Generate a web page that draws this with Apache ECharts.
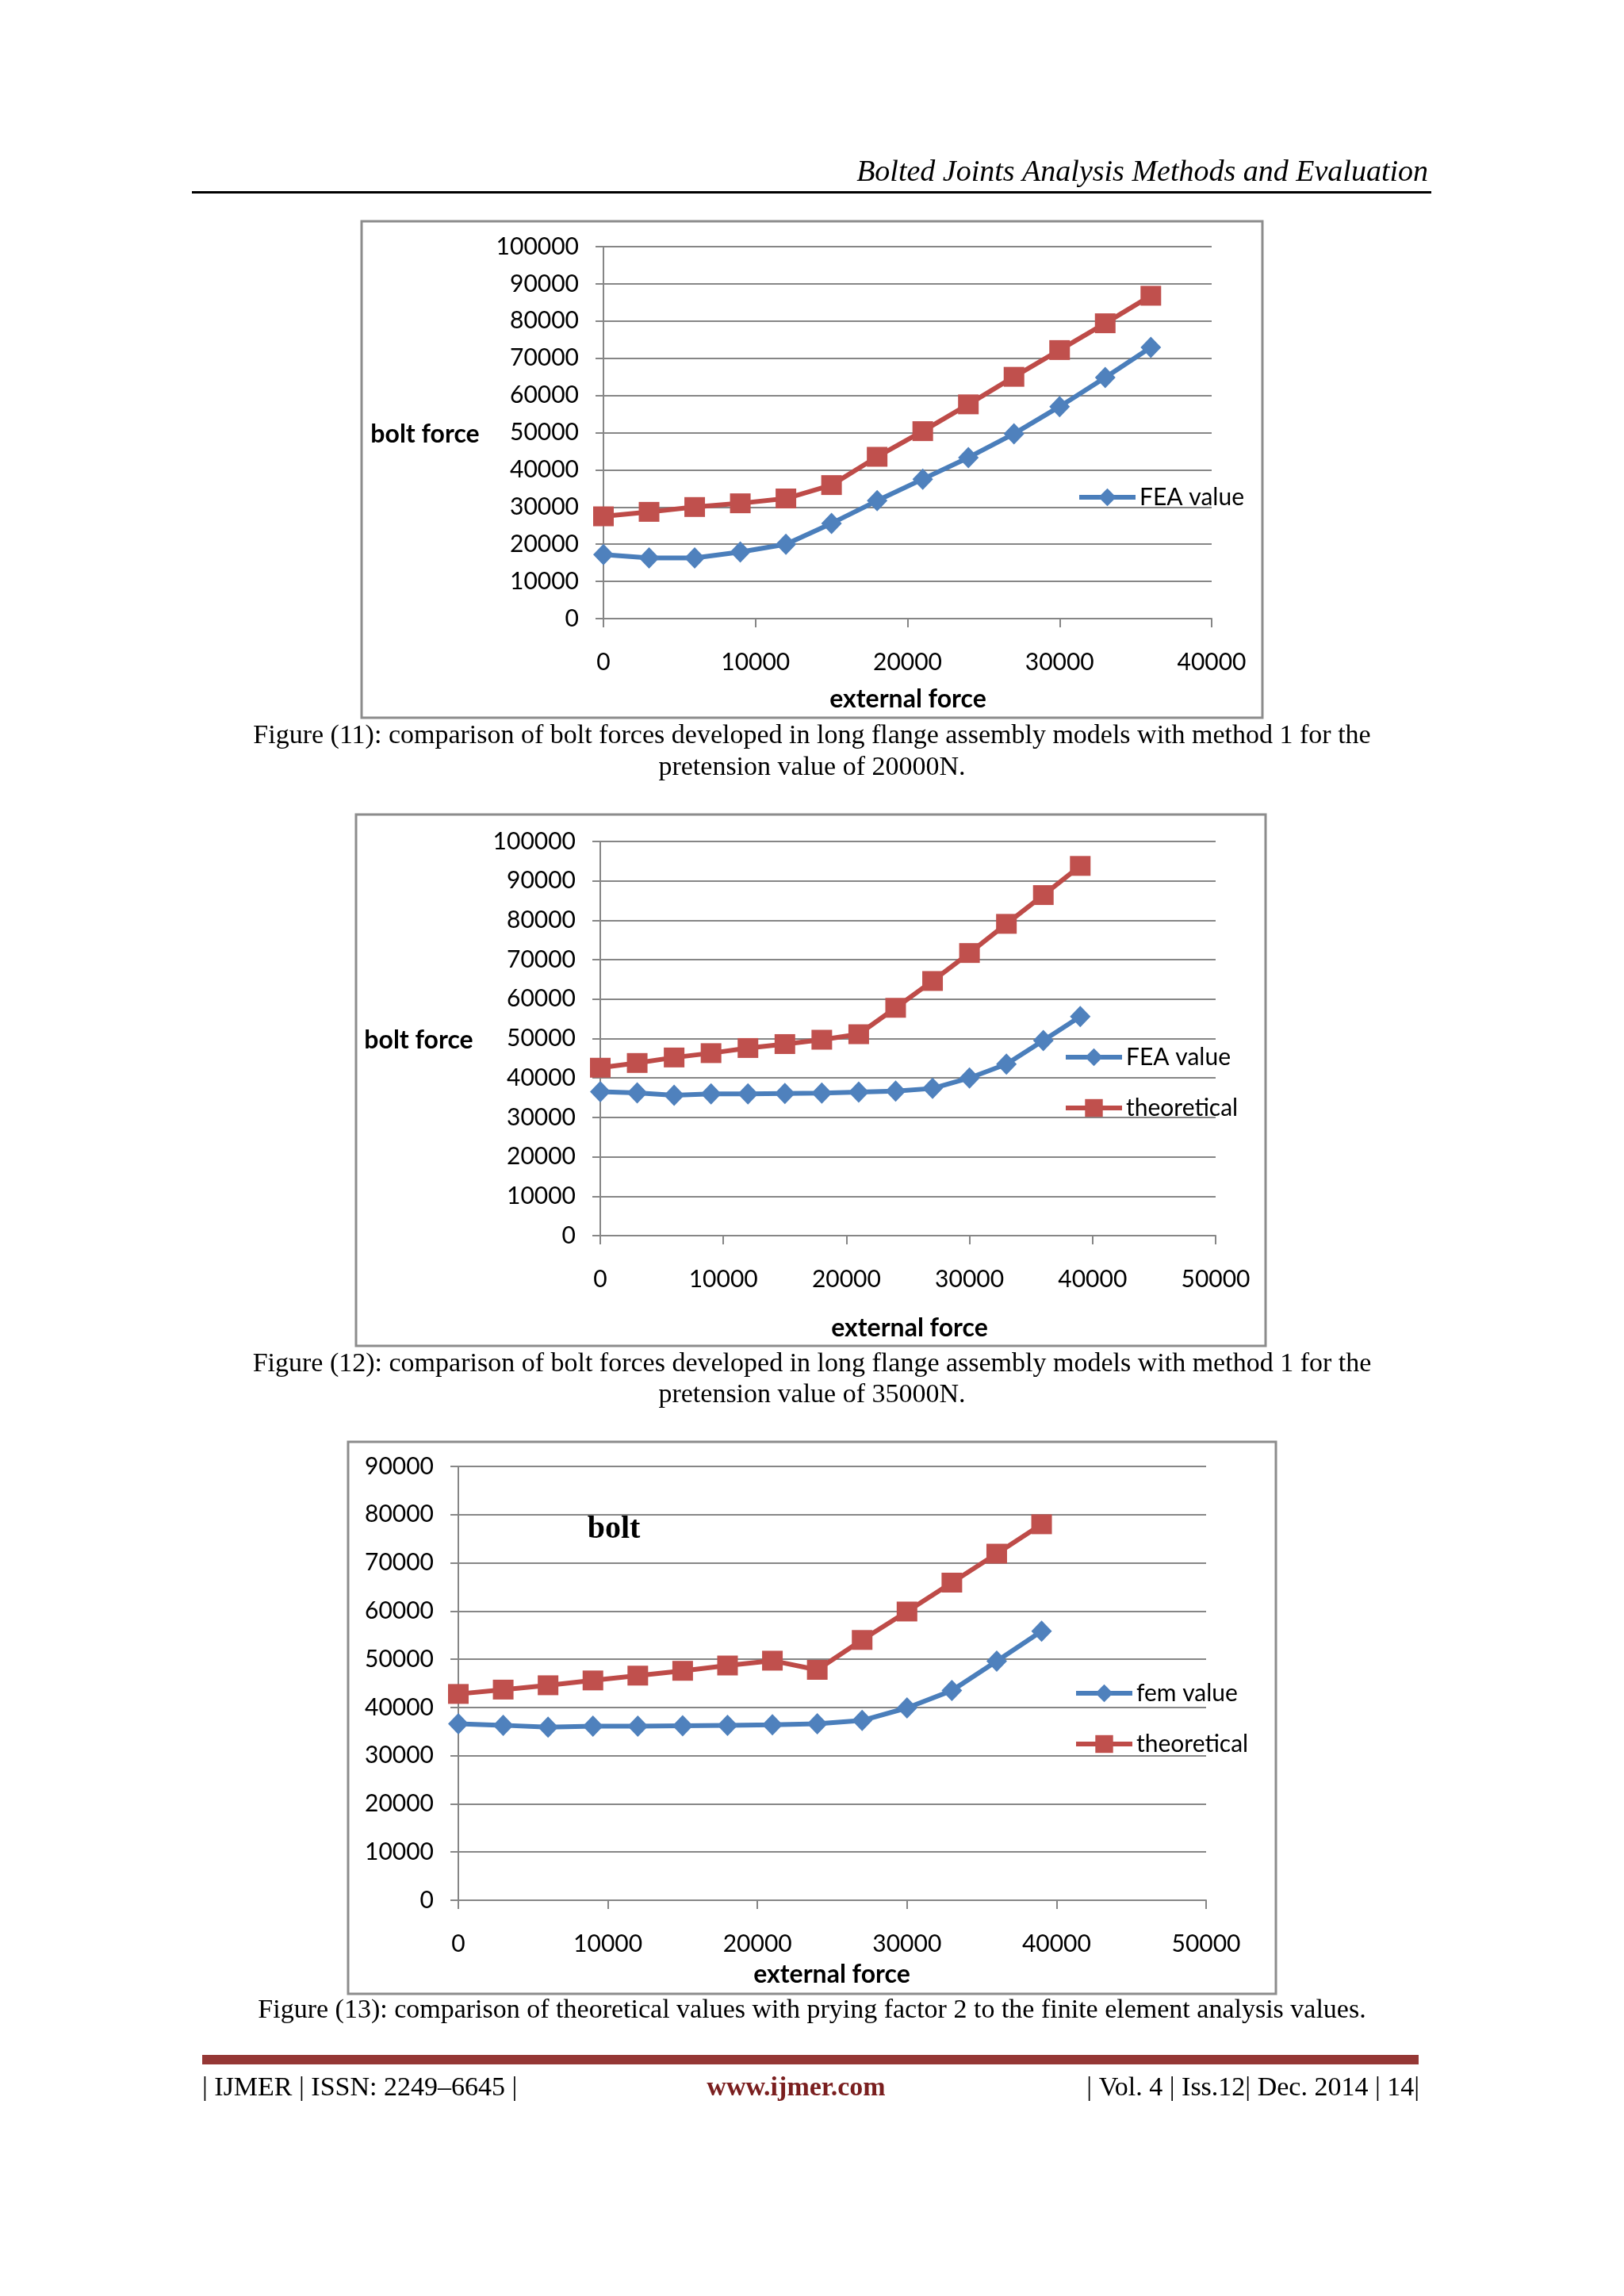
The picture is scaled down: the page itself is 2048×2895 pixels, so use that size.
<!DOCTYPE html>
<html><head><meta charset="utf-8">
<script src="https://cdn.jsdelivr.net/npm/echarts@6/dist/echarts.min.js"></script>
<style>html,body{margin:0;padding:0;background:#fff}#c{width:2048px;height:2895px}</style>
</head><body><div id="c"></div>
<script>
// ---- data ----
const xValues1 = [0,3000,6000,9000,12000,15000,18000,21000,24000,27000,30000,33000,36000];
const feaValues1 = [17200,16300,16300,17900,20000,25600,31700,37500,43300,49700,57000,64800,72900];
const theoreticalValues1 = [27500,28700,30000,31000,32300,35900,43500,50400,57600,65000,72200,79400,86800];

const xValues2 = [0,3000,6000,9000,12000,15000,18000,21000,24000,27000,30000,33000,36000,39000];
const feaValues2 = [36500,36200,35600,35950,35950,36050,36150,36400,36650,37350,40000,43500,49500,55600];
const theoreticalValues2 = [42600,43800,45200,46300,47600,48600,49700,51100,57800,64600,71700,79100,86400,93800];

const xValues3 = [0,3000,6000,9000,12000,15000,18000,21000,24000,27000,30000,33000,36000,39000];
const femValues3 = [36600,36300,35900,36100,36100,36200,36300,36400,36600,37300,39900,43500,49600,55800];
const theoreticalValues3 = [42800,43700,44600,45600,46600,47600,48700,49700,47800,54000,59900,65900,71900,78000];

const xMax = [40000, 50000, 50000];
const yMax = [100000, 100000, 90000];
const tickStep = 10000;

// ---- styles ----
const BLUE_LINE = '#4A7EBB', BLUE_MARK = '#4F81BD';
const RED_LINE = '#BE4B48', RED_MARK = '#C0504D';
const GRID_C = '#868686';
const SANS = 'Lato';

function pairs(xs, ys){ return xs.map((x,i)=>[x, ys[i]]); }
const plain = v => String(v);

function xAxisCfg(gi){
  return {type:'value', gridIndex:gi, min:0, max:xMax[gi], interval:tickStep,
    axisLine:{show:true, onZero:false, lineStyle:{color:GRID_C, width:2}},
    axisTick:{show:true, inside:false, length:11, lineStyle:{color:GRID_C, width:2}},
    axisLabel:{margin:40, color:'#000', fontFamily:SANS, fontSize:30, formatter:plain},
    splitLine:{show:false}};
}
function yAxisCfg(gi){
  return {type:'value', gridIndex:gi, min:0, max:yMax[gi], interval:tickStep,
    axisLine:{show:true, lineStyle:{color:GRID_C, width:2}},
    axisTick:{show:true, inside:false, length:10, lineStyle:{color:GRID_C, width:2}},
    axisLabel:{margin:31, color:'#000', fontFamily:SANS, fontSize:30, formatter:plain},
    splitLine:{show:true, lineStyle:{color:GRID_C, width:2}}};
}
function blueSeries(name, gi, data){
  return {type:'line', name, xAxisIndex:gi, yAxisIndex:gi, data, symbol:'diamond', symbolSize:[26,27],
    lineStyle:{color:BLUE_LINE, width:6}, itemStyle:{color:BLUE_MARK}, z:3, animation:false};
}
function redSeries(name, gi, data){
  return {type:'line', name, xAxisIndex:gi, yAxisIndex:gi, data, symbol:'rect', symbolSize:[26,25],
    lineStyle:{color:RED_LINE, width:6}, itemStyle:{color:RED_MARK}, z:2, animation:false};
}
const legendText = {fontFamily:SANS, fontSize:30, color:'#000', lineHeight:28};
function legendCfg(names, left, top){
  return {data:names, left, top, orient:'vertical', itemWidth:71, itemHeight:28, itemGap:34,
    lineStyle:{width:6}, textStyle:legendText, selectedMode:false};
}
function txt(text, x, y, font, opts){
  return Object.assign({type:'text', x, y, silent:true,
    style:Object.assign({text, font, fill:'#000', textAlign:'center', textVerticalAlign:'middle'}, opts||{})});
}
function box(x,y,w,h){
  return {type:'rect', shape:{x,y,width:w,height:h}, silent:true, z:-10,
    style:{fill:'none', stroke:'#8c8c8c', lineWidth:3}};
}

const chart = echarts.init(document.getElementById('c'), null, {renderer:'canvas'});
chart.setOption({
  backgroundColor:'#fff',
  animation:false,
  grid:[
    {left:761, top:311, width:767, height:469},
    {left:757, top:1061, width:776, height:497},
    {left:578, top:1849, width:943, height:547}
  ],
  xAxis:[xAxisCfg(0), xAxisCfg(1), xAxisCfg(2)],
  yAxis:[yAxisCfg(0), yAxisCfg(1), yAxisCfg(2)],
  legend:[
    legendCfg(['FEA value'], 1353, 607),
    legendCfg(['FEA value','theoretical'], 1336, 1313),
    legendCfg(['fem value','theoretical'], 1349, 2115)
  ],
  series:[
    redSeries('theoretical', 0, pairs(xValues1, theoreticalValues1)),
    blueSeries('FEA value', 0, pairs(xValues1, feaValues1)),
    blueSeries('FEA value', 1, pairs(xValues2, feaValues2)),
    redSeries('theoretical', 1, pairs(xValues2, theoreticalValues2)),
    blueSeries('fem value', 2, pairs(xValues3, femValues3)),
    redSeries('theoretical', 2, pairs(xValues3, theoreticalValues3))
  ],
  graphic:[
    // header
    txt('Bolted Joints Analysis Methods and Evaluation', 1801, 218, 'italic 38px "Liberation Serif"', {textAlign:'right'}),
    {type:'rect', shape:{x:242, y:241, width:1563, height:3}, style:{fill:'#000'}, silent:true},
    // chart frames
    box(456, 279, 1136, 626),
    box(449, 1027, 1147, 670),
    box(439, 1818, 1170, 696),
    // axis titles
    txt('bolt force', 536, 548, 'bold 32px Lato'),
    txt('external force', 1145, 882, 'bold 32px Lato'),
    txt('bolt force', 528, 1312, 'bold 32px Lato'),
    txt('external force', 1147, 1675, 'bold 32px Lato'),
    txt('external force', 1049, 2490, 'bold 32px Lato'),
    txt('bolt', 774, 1929, 'bold 40px "Liberation Serif"'),
    // captions
    txt('Figure (11): comparison of bolt forces developed in long flange assembly models with method 1 for the', 1024, 928, '34px "Liberation Serif"'),
    txt('pretension value of 20000N.', 1024, 968, '34px "Liberation Serif"'),
    txt('Figure (12): comparison of bolt forces developed in long flange assembly models with method 1 for the', 1024, 1720, '34px "Liberation Serif"'),
    txt('pretension value of 35000N.', 1024, 1759, '34px "Liberation Serif"'),
    txt('Figure (13): comparison of theoretical values with prying factor 2 to the finite element analysis values.', 1024, 2535, '34px "Liberation Serif"'),
    // footer
    {type:'rect', shape:{x:255, y:2591, width:1534, height:12}, style:{fill:'#953735'}, silent:true},
    txt('| IJMER | ISSN: 2249\u20136645 |', 255, 2633, '34px "Liberation Serif"', {textAlign:'left'}),
    txt('www.ijmer.com', 1004, 2633, 'bold 34px "Liberation Serif"', {fill:'#7a1f1f'}),
    txt('| Vol. 4 | Iss.12| Dec. 2014 | 14|', 1790, 2633, '34px "Liberation Serif"', {textAlign:'right'})
  ]
});
</script>
</body></html>
